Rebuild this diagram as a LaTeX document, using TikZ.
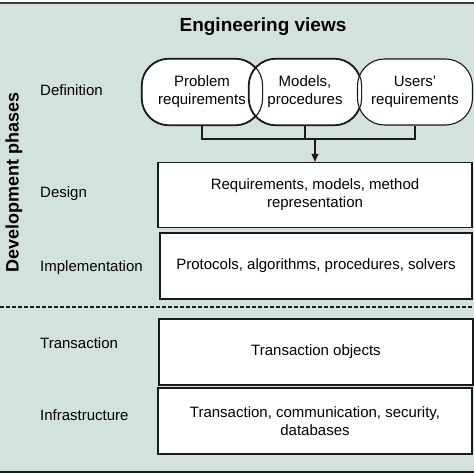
\documentclass[tikz,border=0pt]{standalone}
\usepackage{fontspec}
\setmainfont{Liberation Sans}
\usetikzlibrary{arrows.meta}
\definecolor{panel}{RGB}{211,226,219}
\definecolor{ink}{RGB}{25,25,25}
\tikzset{
  blob/.style={draw=ink, fill=white, line width=1.1pt, rounded corners=27pt,
    minimum height=66pt, align=center, inner sep=0pt},
  layerbox/.style={draw=ink, fill=white, line width=1.5pt, minimum width=314pt,
    minimum height=65pt, align=center, inner sep=0pt},
  phase/.style={anchor=west, inner sep=0pt},
  wire/.style={ink, line width=1.2pt},
}
\begin{document}
\begin{tikzpicture}[x=1pt,y=-1pt,font=\fontsize{15}{18}\selectfont]
  \useasboundingbox (0,0) rectangle (474,474);
  % panel
  \fill[panel] (0,3) rectangle (474,472);
  \draw[line width=1.2pt, ink!85] (0,3) -- (474,3);
  \draw[line width=1.6pt, ink] (0,472) -- (474,472);
  % headings
  \node[font=\bfseries\fontsize{19}{22}\selectfont] (title) at (263,27) {Engineering views};
  \node[font=\bfseries\fontsize{18}{22}\selectfont, rotate=90] (devphases) at (14,182) {Development phases};
  % phase labels
  \node[phase] (definition) at (40,90) {Definition};
  \node[phase] (designlbl) at (40,194) {Design};
  \node[phase] (impllbl) at (40,268) {Implementation};
  \node[phase] (translbl) at (40,343) {Transaction};
  \node[phase] (infralbl) at (40,415) {Infrastructure};
  % engineering views
  \node[blob, minimum width=120pt] (prob) at (202,92) {Problem\\requirements};
  \node[blob, minimum width=112pt] (models) at (305,92) {Models,\\procedures};
  \node[blob, minimum width=115pt] (users) at (415,92) {Users'\\requirements};
  \foreach \n in {prob,models}
    \draw[ink, line width=1.1pt, rounded corners=27pt] (\n.south west) rectangle (\n.north east);
  % layers
  \node[layerbox] (design) at (315,195) {Requirements, models, method\\representation};
  \node[layerbox, minimum width=312pt, minimum height=66pt] (implem) at (316,266) {Protocols, algorithms, procedures, solvers};
  \draw[ink, line width=1.6pt, dash pattern=on 4pt off 2pt] (0,307) -- (474,307);
  \node[layerbox, minimum height=66pt] (transobj) at (316,352) {Transaction objects};
  \node[layerbox, minimum height=66pt] (infra) at (315,421) {Transaction, communication, security,\\databases};
  % connectors
  \coordinate (join) at (315,139);
  \draw[wire] (prob.south) |- (join);
  \draw[wire] (users.south) |- (join);
  \draw[wire] (models.south) -- (models.south |- join);
  \draw[wire, -{Triangle[width=7pt,length=8pt]}] (join) -- (design.north -| join);
\end{tikzpicture}
\end{document}
